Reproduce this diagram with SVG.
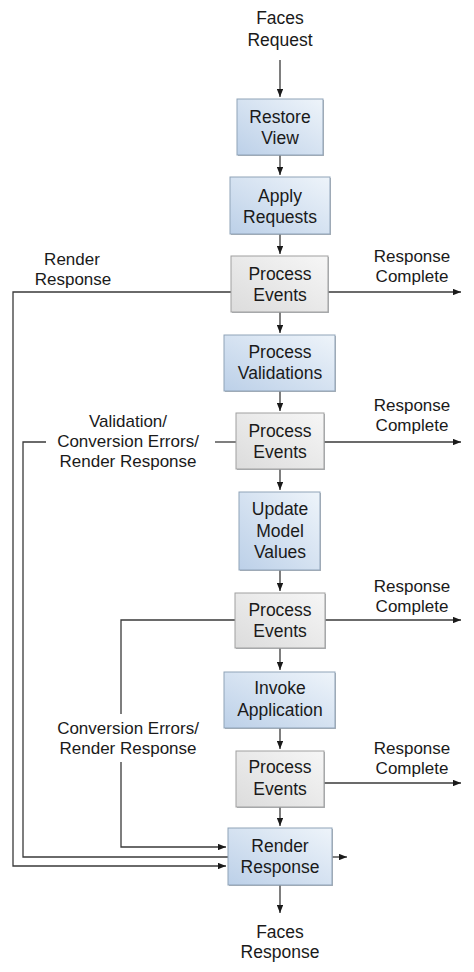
<svg xmlns="http://www.w3.org/2000/svg" width="474" height="972" viewBox="0 0 474 972">
<style>
text{font-family:"Liberation Sans",Arial,sans-serif;font-size:17.5px;fill:#1a1a1a;text-anchor:middle}
.lb{font-size:17px}
.ln{fill:none;stroke:#3a3a3a;stroke-width:1.3}
.blue{fill:url(#gb);stroke:#8fa3b8;stroke-width:1}
.grey{fill:url(#gg);stroke:#a0a0a0;stroke-width:1}
.sh{fill:#8a8f96;opacity:0.7}
</style>
<defs>
<linearGradient id="gb" x1="0" y1="1" x2="1" y2="0">
<stop offset="0" stop-color="#bcd0e8"/>
<stop offset="1" stop-color="#eef4fa"/>
</linearGradient>
<linearGradient id="gg" x1="0" y1="1" x2="1" y2="0">
<stop offset="0" stop-color="#dcdcdc"/>
<stop offset="1" stop-color="#f6f6f6"/>
</linearGradient>
<marker id="ah" viewBox="0 0 10 8" refX="10" refY="4" markerWidth="8" markerHeight="6.4" markerUnits="userSpaceOnUse" orient="auto">
<path d="M0,0 L10,4 L0,8 Z" fill="#1a1a1a"/>
</marker>
</defs>
<rect width="474" height="972" fill="#fff"/>

<g id="connectors">
<path class="ln" d="M280,60 V97" marker-end="url(#ah)"/>
<path class="ln" d="M280,155 V175" marker-end="url(#ah)"/>
<path class="ln" d="M280,234 V254" marker-end="url(#ah)"/>
<path class="ln" d="M280,312 V333" marker-end="url(#ah)"/>
<path class="ln" d="M280,391 V411" marker-end="url(#ah)"/>
<path class="ln" d="M280,469 V490" marker-end="url(#ah)"/>
<path class="ln" d="M280,570 V591" marker-end="url(#ah)"/>
<path class="ln" d="M280,648 V670" marker-end="url(#ah)"/>
<path class="ln" d="M280,728 V749" marker-end="url(#ah)"/>
<path class="ln" d="M280,807 V826" marker-end="url(#ah)"/>
<path class="ln" d="M280,885 V913" marker-end="url(#ah)"/>
<path class="ln" d="M328,292 H461" marker-end="url(#ah)"/>
<path class="ln" d="M324,442 H461" marker-end="url(#ah)"/>
<path class="ln" d="M325,620 H461" marker-end="url(#ah)"/>
<path class="ln" d="M324,783 H461" marker-end="url(#ah)"/>
<path class="ln" d="M332,857 H347" marker-end="url(#ah)"/>
<path class="ln" d="M231,292 H13 V866 H226" marker-end="url(#ah)"/>
<path class="ln" d="M46,442 H23 V857 H228"/>
<path class="ln" d="M215,442 H236"/>
<path class="ln" d="M235,620 H121 V714"/>
<path class="ln" d="M121,762 V847 H226" marker-end="url(#ah)"/>
</g>

<g id="faces-request">
<text x="280" y="24">Faces</text>
<text x="280" y="46">Request</text>
</g>

<g id="restore-view">
<rect class="sh" x="238" y="100" width="86" height="56"/>
<rect class="blue" x="237" y="99" width="86" height="56"/>
<text x="280" y="123">Restore</text>
<text x="280" y="144">View</text>
</g>

<g id="apply-requests">
<rect class="sh" x="231" y="178" width="100" height="57"/>
<rect class="blue" x="230" y="177" width="100" height="57"/>
<text x="280" y="202">Apply</text>
<text x="280" y="223">Requests</text>
</g>

<g id="process-events-1">
<rect class="sh" x="232" y="257" width="97" height="56"/>
<rect class="grey" x="231" y="256" width="97" height="56"/>
<text x="280" y="280">Process</text>
<text x="280" y="301">Events</text>
</g>

<g id="process-validations">
<rect class="sh" x="225" y="336" width="111" height="56"/>
<rect class="blue" x="224" y="335" width="111" height="56"/>
<text x="280" y="358">Process</text>
<text x="280" y="379">Validations</text>
</g>

<g id="process-events-2">
<rect class="sh" x="237" y="414" width="88" height="56"/>
<rect class="grey" x="236" y="413" width="88" height="56"/>
<text x="280" y="437">Process</text>
<text x="280" y="458">Events</text>
</g>

<g id="update-model-values">
<rect class="sh" x="240" y="493" width="81" height="78"/>
<rect class="blue" x="239" y="492" width="81" height="78"/>
<text x="280" y="515">Update</text>
<text x="280" y="537">Model</text>
<text x="280" y="558">Values</text>
</g>

<g id="process-events-3">
<rect class="sh" x="236" y="594" width="90" height="55"/>
<rect class="grey" x="235" y="593" width="90" height="55"/>
<text x="280" y="616">Process</text>
<text x="280" y="637">Events</text>
</g>

<g id="invoke-application">
<rect class="sh" x="225" y="673" width="111" height="56"/>
<rect class="blue" x="224" y="672" width="111" height="56"/>
<text x="280" y="694">Invoke</text>
<text x="280" y="716">Application</text>
</g>

<g id="process-events-4">
<rect class="sh" x="237" y="752" width="88" height="56"/>
<rect class="grey" x="236" y="751" width="88" height="56"/>
<text x="280" y="773">Process</text>
<text x="280" y="795">Events</text>
</g>

<g id="render-response">
<rect class="sh" x="229" y="829" width="104" height="57"/>
<rect class="blue" x="228" y="828" width="104" height="57"/>
<text x="280" y="852">Render</text>
<text x="280" y="873">Response</text>
</g>

<g id="faces-response">
<text x="280" y="938">Faces</text>
<text x="280" y="958">Response</text>
</g>

<g id="labels">
<text class="lb" x="72" y="265">Render</text>
<text class="lb" x="73" y="285">Response</text>
<text class="lb" x="412" y="262">Response</text>
<text class="lb" x="412" y="282">Complete</text>
<text class="lb" x="128" y="427">Validation/</text>
<text class="lb" x="128" y="447">Conversion Errors/</text>
<text class="lb" x="128" y="467">Render Response</text>
<text class="lb" x="412" y="411">Response</text>
<text class="lb" x="412" y="431">Complete</text>
<text class="lb" x="412" y="592">Response</text>
<text class="lb" x="412" y="612">Complete</text>
<text class="lb" x="128" y="734">Conversion Errors/</text>
<text class="lb" x="128" y="754">Render Response</text>
<text class="lb" x="412" y="754">Response</text>
<text class="lb" x="412" y="774">Complete</text>
</g>
</svg>
